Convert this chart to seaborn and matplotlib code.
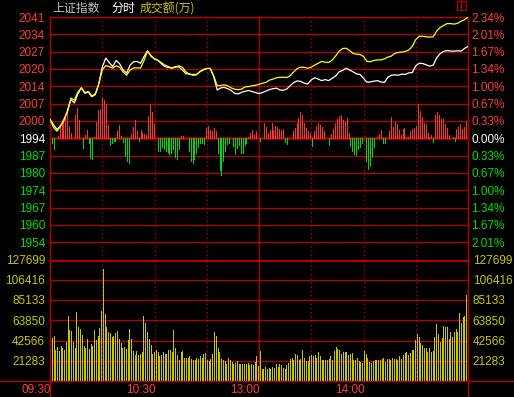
import numpy as np
import matplotlib
matplotlib.use("Agg")
import matplotlib.pyplot as plt
import seaborn as sns
from matplotlib.transforms import ScaledTranslation
from matplotlib.patches import Rectangle
from matplotlib.lines import Line2D

# ---------------- data ----------------
title_parts = ["上证指数", "分时", "成交额(万)"]
price_labels = ["2041", "2034", "2027", "2020", "2014", "2007", "2000",
                "1994", "1987", "1980", "1974", "1967", "1960", "1954"]
pct_labels = ["2.34%", "2.01%", "1.67%", "1.34%", "1.00%", "0.67%", "0.33%",
              "0.00%", "0.33%", "0.67%", "1.00%", "1.34%", "1.67%", "2.01%"]
prev_close = 1994.28
price_step = 6.68
time_labels = ["09:30", "10:30", "13:00", "14:00"]
time_label_minutes = [0, 60, 120, 180]
half_hour_marks = [30, 60, 90, 150, 180, 210]
midday_mark = 120
vol_ticks = [21283, 42566, 63850, 85133, 106416, 127699]
sample_interval_min = 2

white_price = [
    2001.6, 1999.5, 1997.7, 1999.0, 2001.1, 2004.9, 2009.2, 2007.9, 2011.4, 2013.7,
    2011.6, 2012.1, 2010.3, 2011.1, 2015.2, 2021.7, 2025.2, 2023.5, 2021.9, 2024.3,
    2023.0, 2020.6, 2019.4, 2022.5, 2023.8, 2023.9, 2023.2, 2025.8, 2028.0, 2025.9,
    2024.8, 2024.3, 2023.0, 2021.9, 2021.6, 2021.3, 2021.7, 2021.8, 2020.6, 2019.2, 2019.0,
    2018.6, 2018.7, 2019.9, 2020.8, 2021.2, 2021.2, 2018.1, 2012.9, 2013.7, 2013.9,
    2013.4, 2012.7, 2011.6, 2011.4, 2012.0, 2012.4, 2012.7, 2012.3, 2011.9, 2011.5,
    2011.9, 2012.5, 2013.0, 2013.4, 2013.6, 2012.9, 2012.8, 2013.3, 2014.6, 2015.8,
    2016.4, 2016.2, 2015.5, 2015.2, 2016.8, 2017.6, 2017.1, 2016.5, 2016.9, 2016.5,
    2017.4, 2018.3, 2019.9, 2020.4, 2021.3, 2020.6, 2019.9, 2019.1, 2018.9, 2017.4,
    2015.9, 2016.0, 2016.3, 2016.5, 2016.0, 2015.8, 2017.8, 2018.6, 2018.7, 2018.6,
    2019.0, 2018.9, 2019.5, 2019.6, 2022.2, 2023.2, 2023.1, 2022.6, 2022.1, 2022.5,
    2025.3, 2026.9, 2027.8, 2028.1, 2027.9, 2027.9, 2028.0, 2027.9, 2028.9, 2029.7,
]
yellow_price = [
    2001.6, 1998.5, 1997.0, 1998.9, 2001.6, 2004.4, 2009.8, 2009.0, 2012.1, 2013.8,
    2011.9, 2012.3, 2010.6, 2011.4, 2015.2, 2020.6, 2022.3, 2021.9, 2021.3, 2022.2,
    2021.7, 2019.8, 2018.6, 2020.6, 2021.4, 2021.4, 2021.4, 2024.3, 2027.9, 2026.1,
    2025.0, 2024.3, 2023.4, 2022.5, 2021.9, 2021.4, 2021.9, 2022.2, 2021.7, 2019.9, 2019.0,
    2018.9, 2018.9, 2019.9, 2020.6, 2021.2, 2021.2, 2018.3, 2014.6, 2014.6, 2014.9,
    2014.5, 2013.7, 2013.2, 2013.0, 2013.2, 2014.1, 2014.2, 2014.5, 2014.7, 2015.1,
    2015.5, 2015.8, 2016.7, 2017.1, 2017.6, 2017.8, 2017.8, 2017.7, 2018.5, 2019.9,
    2021.2, 2021.7, 2021.6, 2021.3, 2021.7, 2022.5, 2023.2, 2023.9, 2023.6, 2023.5,
    2024.4, 2026.0, 2027.8, 2028.9, 2029.0, 2028.1, 2027.0, 2026.7, 2026.6, 2025.8,
    2023.9, 2023.8, 2024.3, 2024.5, 2024.5, 2024.9, 2025.6, 2026.0, 2027.0, 2027.4,
    2027.5, 2027.8, 2028.3, 2029.7, 2032.3, 2033.6, 2033.6, 2033.4, 2033.3, 2033.4,
    2035.6, 2037.0, 2037.8, 2038.5, 2038.5, 2038.3, 2038.6, 2039.4, 2040.0, 2041.0,
]
# red/green breadth bars (arbitrary units)
breadth = [
    25, -15, -31, 0, 7, 33, 47, 53, 73, 91, 38, 15, 0, 71, 91, 55, 0, -29, 11, 25,
    -13, -59, -61, 5, 49, 83, 88, 123, 115, 101, 40, -19, -13, -7, -9, 23, 41, 7, -10, -52,
    -67, -75, 13, 35, 55, 23, -7, 25, 15, 13, 11, 68, 101, 79, 43, 0, -39, -39, -27, -33,
    -37, -41, -47, -43, -31, -57, -61, -31, 7, 7, 0, 0, -39, -67, -73, -63,
    -45, -27, -15, -15, -17, 31, 37, 25, 21, 31, 21, -45, -95, -111, -67, -39, -17, -15, 0, -23,
    -47, -29, -19, -45, -45, -19, -13, 3, 17, 25, 9, 21, 0, -9, 0, 47, 35, 15, 25, 47,
    25, 37, 33, 29, 25, 27, -11, -17, 0, 0, 23, 31, 47, 61, 79, 71, 45, 31, 21, 15,
    -23, 21, 37, 47, 41, 35, 21, 0, 0, -19, 13,
    27, 47, 57, 67, 71, 55, 49, 61, 17, -23, -39, -47, -49, -33, -25, -13, 0, -67, -91, -83,
    -55, -25, 0, 5, 13, 25, -13, -13, 0, 21, 63, 33, 49, 43, 25, 11, 27, 31, 3, 3,
    23, 27, 31, 37, 101, 81, 63, 47, 43, 15, 5, 11, -11, 69, 77, 69, 57, 57, 43, 31,
    11, 0, 3, -7, 27, 33, 43, 27, 33, 51, 63,
]
breadth_scale = 0.129  # breadth units -> index points
# turnover, thousands of 万
volume_k = [
    91, 45, 47, 33, 36, 32, 37, 35, 33, 41, 68, 54, 53, 41, 35, 73, 57, 55, 48, 37,
    35, 44, 34, 39, 37, 54, 43, 47, 56, 74, 118, 70, 57, 51, 50, 46, 47, 50, 53, 44,
    40, 35, 36, 34, 43, 55, 44, 32, 27, 32, 27, 28, 30, 68, 61, 51, 44, 38, 28, 30,
    33, 30, 26, 27, 30, 28, 28, 33, 33, 31, 54, 35, 27, 22, 30, 32, 24, 24, 24, 26,
    23, 22, 22, 24, 23, 26, 24, 28, 29, 22, 21, 23, 28, 52, 47, 35, 31, 23, 22, 21,
    18, 24, 22, 20, 18, 19, 21, 18, 18, 18, 18, 18, 19, 17, 18, 17, 20, 26, 16, 32,
    13, 13, 15, 13, 14, 13, 15, 14, 18, 15, 18, 17, 14, 13, 17, 19, 23, 24, 22, 28,
    27, 22, 23, 33, 24, 21, 21, 26, 27, 26, 27, 24, 31, 26, 22, 22, 22, 22,
    23, 26, 22, 32, 36, 34, 33, 28, 31, 31, 31, 27, 28, 29, 22, 22, 24, 21, 20, 19,
    32, 28, 24, 20, 19, 21, 22, 22, 22, 22, 23, 24, 20, 23, 23, 22, 24, 23, 23, 22,
    26, 23, 27, 29, 31, 27, 29, 33, 33, 43, 49, 46, 40, 38, 35, 35, 31, 35, 30, 32,
    46, 60, 49, 41, 45, 58, 57, 57, 44, 51, 46, 51, 55, 52, 71, 61, 67, 68, 90, 98,
]

# ---------------- style ----------------
BG = "black"
GRID = "#b80000"
RED_TXT = "#ff3c3c"
GREEN_TXT = "#00e000"
VOL_TXT = "#c8c800"
RED_BAR = "#ff3232"
GREEN_BAR = "#00dc00"
VOL_BAR = "#c8c800"
BAR_LW = 0.45

sns.set_style("dark", {"axes.facecolor": BG, "figure.facecolor": BG})
plt.rcParams["font.family"] = ["Liberation Sans", "Noto Sans CJK SC", "DejaVu Sans"]
plt.rcParams["font.size"] = 8.5

W, H = 514, 397
fig = plt.figure(figsize=(W / 100, H / 100), dpi=100, facecolor=BG)


def rect(l, t, r, b):
    return [l / W, 1 - b / H, (r - l) / W, (b - t) / H]


ax = fig.add_axes(rect(50, 17, 468, 259.5))
axv = fig.add_axes(rect(50, 259.5, 468, 381))
TOTAL_MIN = 240
for a in (ax, axv):
    a.set_facecolor(BG)
    a.set_xlim(0, TOTAL_MIN)
    a.grid(False)
    for s in a.spines.values():
        s.set_color(GRID)
        s.set_linewidth(1.0)

# ---- price panel ----
lo = prev_close - 7 * price_step
hi = prev_close + 7 * price_step
ax.set_ylim(lo, hi)
ks = list(range(7, -7, -1))
tick_pos = [prev_close + k * price_step for k in ks]
for k, p in zip(ks, tick_pos):
    ax.axhline(p, color=GRID, lw=1.8 if k == 0 else 0.9, zorder=1)
for m in half_hour_marks:
    ax.axvline(m, color=GRID, lw=0.9, ls=(0, (1.2, 2.2)), zorder=1)
    axv.axvline(m, color=GRID, lw=0.9, ls=(0, (1.2, 2.2)), zorder=1)
ax.axvline(midday_mark, color=GRID, lw=0.9, zorder=1)
axv.axvline(midday_mark, color=GRID, lw=0.9, zorder=1)

b = np.array(breadth, dtype=float) * breadth_scale
bx = np.linspace(0, TOTAL_MIN, len(b))
pos = b > 0
neg = b < 0
ax.vlines(bx[pos], prev_close, prev_close + b[pos], color=RED_BAR, lw=BAR_LW,
          antialiased=False, zorder=2)
ax.vlines(bx[neg], prev_close, prev_close + b[neg], color=GREEN_BAR, lw=BAR_LW,
          antialiased=False, zorder=2)

tx = np.arange(len(white_price)) * sample_interval_min
sns.lineplot(x=tx, y=white_price, ax=ax, color="white", lw=0.9, zorder=4)
sns.lineplot(x=tx, y=yellow_price, ax=ax, color="#ffff00", lw=0.9, zorder=5)

ax.set_xticks([])
ax.set_xlabel("")
ax.set_ylabel("")
ax.set_yticks(tick_pos)
ax.set_yticklabels(price_labels)
ax.tick_params(axis="y", length=0, pad=3.5, labelsize=8.5)
for k, lab in zip(ks, ax.get_yticklabels()):
    lab.set_color(RED_TXT if k > 0 else ("white" if k == 0 else GREEN_TXT))

ax2 = ax.twinx()
ax2.set_ylim(lo, hi)
ax2.set_yticks(tick_pos)
ax2.set_yticklabels(pct_labels)
ax2.tick_params(axis="y", length=0, pad=2.5, labelsize=8.5)
ax2.grid(False)
for s in ax2.spines.values():
    s.set_visible(False)
for k, lab in zip(ks, ax2.get_yticklabels()):
    lab.set_color(RED_TXT if k > 0 else ("white" if k == 0 else GREEN_TXT))
ax.spines["bottom"].set_visible(False)

# ---- volume panel ----
vol = np.array(volume_k, dtype=float) * 1000
vx = np.linspace(0, TOTAL_MIN, len(vol))
axv.set_ylim(0, vol_ticks[-1])
for i, v in enumerate(vol_ticks):
    axv.axhline(v, color=GRID, lw=2.2 if i == len(vol_ticks) - 1 else 0.9, zorder=1)
axv.vlines(vx, 0, vol, color=VOL_BAR, lw=BAR_LW, antialiased=False, zorder=2)
axv.spines["top"].set_visible(False)
axv.spines["bottom"].set_visible(False)
axv.set_yticks(vol_ticks)
axv.set_yticklabels([str(v) for v in vol_ticks])
axv.tick_params(axis="y", length=0, pad=3.5, labelsize=8.5, labelcolor=VOL_TXT,
                right=False, labelright=True)
axv.set_xticks(time_label_minutes)
axv.set_xticklabels(time_labels)
axv.tick_params(axis="x", length=0, pad=2.5, labelsize=8.5, labelcolor=RED_TXT)
shift = ScaledTranslation(-14 / 100, 0, fig.dpi_scale_trans)
for lab in axv.get_xticklabels():
    lab.set_transform(lab.get_transform() + shift)

# frame extensions below the volume panel
ext = 16 / (381 - 259.5)
axv.plot([0, 0], [0, -ext], transform=axv.transAxes, color=GRID, lw=1.0, clip_on=False)
axv.plot([1, 1], [0, -ext], transform=axv.transAxes, color=GRID, lw=1.0, clip_on=False)
axv.plot([-50 / 418, 464 / 418], [0, 0], transform=axv.transAxes, color=GRID, lw=1.0,
         clip_on=False)

# ---- header ----
title_colors = ["#c0c0c0", "white", VOL_TXT]
title_x = [52, 112, 140]
for t, c, x in zip(title_parts, title_colors, title_x):
    fig.text(x / W, 1 - 8.5 / H, t, color=c, ha="left", va="center", fontsize=8.6,
             family=["Noto Sans CJK SC", "DejaVu Sans"])

fig.add_artist(Rectangle((456.5 / W, 1 - 9.5 / H), 9 / W, 8.5 / H, transform=fig.transFigure,
                         fill=False, edgecolor=GRID, lw=0.9))
fig.add_artist(Line2D([461 / W, 461 / W], [1 - 9.5 / H, 1 - 1 / H], transform=fig.transFigure,
                      color=GRID, lw=0.9))

fig.savefig("out.png", dpi=100, facecolor=BG)
